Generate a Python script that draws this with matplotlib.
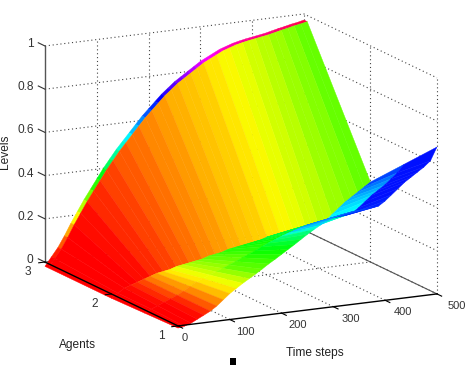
import numpy as np
import matplotlib
matplotlib.use('Agg')
import matplotlib.pyplot as plt
from matplotlib.patches import Rectangle
from mpl_toolkits.mplot3d import proj3d

time_steps = [0, 12.5, 25, 37.5, 50, 62.5, 75, 87.5, 100, 112.5, 125, 137.5, 150, 162.5, 175, 187.5, 200, 212.5, 225, 237.5, 250,
              262.5, 275, 287.5, 300, 312.5, 325, 337.5, 350, 362.5, 375, 387.5, 400, 412.5, 425, 437.5, 450, 462.5, 475, 487.5, 500]
agents = [1, 1.5, 2, 2.95, 3]

level_agent1 = [-0.01, -0.005, 0.005, 0.02, 0.035, 0.05, 0.07, 0.095, 0.12, 0.14, 0.16, 0.178, 0.196, 0.215, 0.235, 0.253, 0.272, 0.291, 0.31, 0.33, 0.35,
                0.368, 0.385, 0.40, 0.41, 0.42, 0.425, 0.43, 0.432, 0.435, 0.438, 0.44, 0.46, 0.485, 0.51, 0.535, 0.555, 0.575, 0.595, 0.62, 0.68]
level_mid = [-0.015, 0.0, 0.012, 0.025, 0.037, 0.05, 0.065, 0.083, 0.10, 0.112, 0.125, 0.136, 0.148, 0.16, 0.172, 0.186, 0.198, 0.21, 0.225, 0.238, 0.25,
             0.262, 0.272, 0.282, 0.292, 0.30, 0.305, 0.31, 0.313, 0.318, 0.32, 0.322, 0.33, 0.35, 0.375, 0.40, 0.42, 0.44, 0.465, 0.49, 0.525]
level_agent2 = [-0.02, 0.0, 0.02, 0.03, 0.04, 0.05, 0.06, 0.07, 0.075, 0.08, 0.09, 0.095, 0.10, 0.105, 0.11, 0.12, 0.125, 0.13, 0.14, 0.145, 0.15,
                0.155, 0.16, 0.165, 0.175, 0.18, 0.185, 0.19, 0.195, 0.20, 0.20, 0.20, 0.20, 0.215, 0.24, 0.265, 0.29, 0.31, 0.33, 0.35, 0.37]
level_agent3 = [-0.02, 0.02, 0.06, 0.11, 0.165, 0.215, 0.265, 0.31, 0.355, 0.40, 0.44, 0.48, 0.515, 0.55, 0.585, 0.62, 0.65, 0.68, 0.71, 0.735, 0.76,
                0.78, 0.80, 0.82, 0.84, 0.855, 0.87, 0.885, 0.895, 0.905, 0.912, 0.918, 0.923, 0.928, 0.933, 0.94, 0.947, 0.953, 0.96, 0.965, 0.972]

hue_agent1 = [0, 0, 0, 0.01, 0.03, 0.06, 0.09, 0.125, 0.155, 0.18, 0.21, 0.24, 0.27, 0.285, 0.30, 0.315, 0.33, 0.35, 0.37, 0.395, 0.42,
              0.48, 0.54, 0.56, 0.58, 0.60, 0.61, 0.62, 0.63, 0.64, 0.65, 0.655, 0.66, 0.665, 0.665, 0.665, 0.665, 0.665, 0.665, 0.665, 0.665]
hue_mid = [0, 0, 0.01, 0.03, 0.05, 0.08, 0.105, 0.135, 0.16, 0.18, 0.205, 0.225, 0.24, 0.255, 0.27, 0.285, 0.30, 0.31, 0.32, 0.33, 0.34,
           0.35, 0.36, 0.37, 0.38, 0.39, 0.395, 0.405, 0.41, 0.43, 0.46, 0.48, 0.50, 0.515, 0.53, 0.545, 0.56, 0.58, 0.60, 0.63, 0.66]
hue_agent2 = [0, 0, 0, 0, 0.01, 0.01, 0.03, 0.03, 0.045, 0.045, 0.06, 0.06, 0.075, 0.075, 0.09, 0.09, 0.105, 0.105, 0.12, 0.12, 0.13,
              0.13, 0.14, 0.14, 0.155, 0.155, 0.17, 0.17, 0.185, 0.185, 0.20, 0.20, 0.215, 0.215, 0.235, 0.235, 0.25, 0.25, 0.27, 0.27, 0.27]

time_ticks = [0, 100, 200, 300, 400, 500]
agent_ticks = [1, 2, 3]
level_ticks = [0, 0.2, 0.4, 0.6, 0.8, 1]
level_labels = ['0', '0.2', '0.4', '0.6', '0.8', '1']
time_dx = [7, 16, 16, 17, 18, 20]

plt.rcParams['font.family'] = ['Liberation Sans', 'DejaVu Sans']
fig = plt.figure(figsize=(4.74, 3.65), dpi=100)
ax = fig.add_axes([6.9 / 474, -39 / 365, 455.8 / 474, 455.8 / 365], projection='3d', proj_type='ortho')
ax.set_box_aspect((290.3, 294, 222.7))
ax.view_init(elev=14.1, azim=-116.9)
ax.set_xlim(0, 500, view_margin=0)
ax.set_ylim(1, 3, view_margin=0)
ax.set_zlim(0, 1, view_margin=0)
ax.set_axis_off()
ax.computed_zorder = False

X, Y = np.meshgrid(time_steps, agents)
Z = np.array([level_agent1, level_mid, level_agent2, level_agent3, level_agent3])
C = np.array([hue_agent1, hue_mid, hue_agent2, level_agent3, level_agent3])
ax.plot_surface(X, Y, Z, facecolors=plt.cm.hsv(np.clip(C, 0, 1)), rstride=1, cstride=1, shade=False, linewidth=0.3, zorder=2)

dot = dict(color='#444444', lw=0.8, ls=(0, (1, 2.5)), zorder=1)
for z in level_ticks[1:]:
    ax.plot([0, 500, 500], [3, 3, 1], [z, z, z], **dot)
for x in time_ticks[1:]:
    ax.plot([x, x], [3, 3], [0, 1], **dot)
    ax.plot([x, x], [1, 3], [0, 0], **dot)
for a in agent_ticks[:2]:
    ax.plot([500, 500], [a, a], [0, 1], **dot)
ax.plot([0, 500], [2, 2], [0, 0], **dot)

ax.plot([0, 0], [3, 3], [0, 1], color='#555555', lw=1, zorder=1)
ax.plot([0, 500, 500], [3, 3, 1], [0, 0, 0], color='#555555', lw=0.8, zorder=1)
ax.plot([0, 0, 500], [3, 1, 1], [0, 0, 0], color='black', lw=1, zorder=3)

for z in level_ticks:
    ax.plot([0, 0], [3, 3.1], [z, z], color='#333333', lw=0.8, zorder=3)
for x in time_ticks:
    ax.plot([x, x], [1, 0.93], [0, 0], color='black', lw=0.8, zorder=3)
for a in agent_ticks:
    ax.plot([0, -12], [a, a], [0, 0], color='black', lw=0.8, zorder=3)

fig.canvas.draw()
M = ax.get_proj()


def label(x, y, z, s, dx, dy, size=8.6):
    u, v, _ = proj3d.proj_transform(x, y, z, M)
    px, py = ax.transData.transform((u, v))
    fig.text((px + dx) / 474, (py + dy) / 365, s, ha='center', va='center', fontsize=size, color='#333333')


for z, s in zip(level_ticks, level_labels):
    label(0, 3, z, s, -19 if len(s) > 1 else -15, 2)
for a in agent_ticks:
    label(0, a, 0, str(a), -17, -10)
for x, dx in zip(time_ticks, time_dx):
    label(x, 1, 0, str(x), dx, -12, size=8)

fig.text(315 / 474, 1 - 353 / 365, 'Time steps', ha='center', va='center', fontsize=8.6, color='#222222')
fig.text(77 / 474, 1 - 345 / 365, 'Agents', ha='center', va='center', fontsize=8.6, color='#222222')
fig.text(5 / 474, 1 - 152 / 365, 'Levels', ha='center', va='center', rotation=90, fontsize=8.6, color='#222222')
fig.add_artist(Rectangle((230 / 474, 0), 6 / 474, 7 / 365, transform=fig.transFigure, color='black', lw=0))

fig.savefig('out.png', dpi=100)
